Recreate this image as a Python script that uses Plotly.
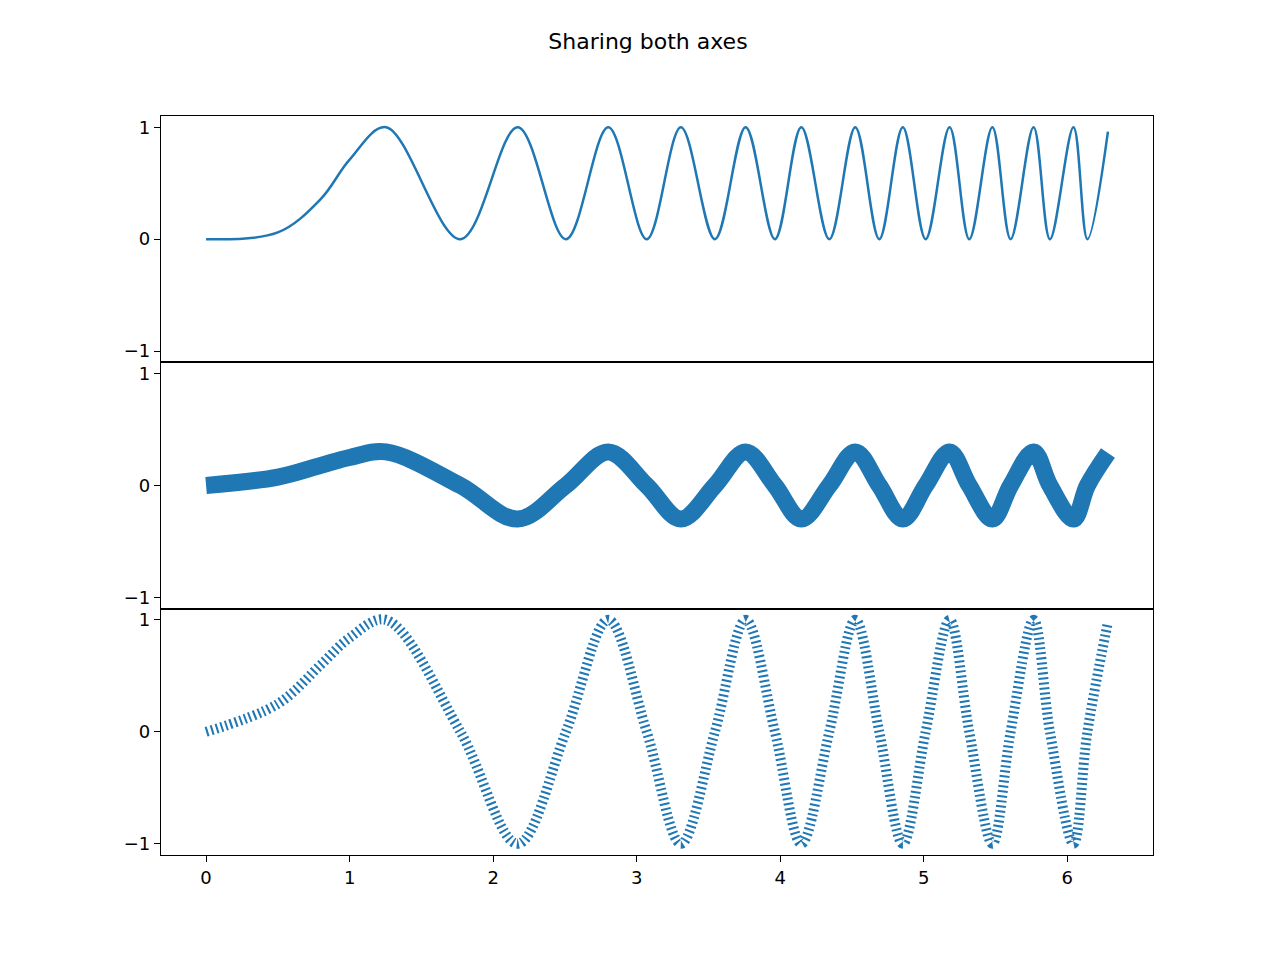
import plotly.graph_objects as go
from plotly.subplots import make_subplots

# Key points (zero crossings and extrema)
x_pts = [0.0, 0.5, 0.8, 1.0, 1.253, 1.772, 2.171, 2.507, 2.802, 3.070, 3.308, 3.545,
         3.759, 3.963, 4.147, 4.342, 4.523, 4.690, 4.854, 5.013, 5.180, 5.317,
         5.478, 5.605, 5.765, 5.879, 6.043, 6.140, 6.283]
sine_vals = [0.0, 0.25, 0.6, 0.84, 1.0, 0.0, -1.0, 0.0, 1.0, 0.0, -1.0, 0.0,
             1.0, 0.0, -1.0, 0.0, 1.0, 0.0, -1.0, 0.0, 1.0, 0.0,
             -1.0, 0.0, 1.0, 0.0, -1.0, 0.0, 0.98]
top_vals = [0.0, 0.06, 0.36, 0.71, 1.0, 0.0, 1.0, 0.0, 1.0, 0.0, 1.0, 0.0,
            1.0, 0.0, 1.0, 0.0, 1.0, 0.0, 1.0, 0.0, 1.0, 0.0,
            1.0, 0.0, 1.0, 0.0, 1.0, 0.0, 0.96]
mid_vals = [0.0, 0.075, 0.18, 0.25, 0.3, 0.0, -0.3, 0.0, 0.3, 0.0, -0.3, 0.0,
            0.3, 0.0, -0.3, 0.0, 0.3, 0.0, -0.3, 0.0, 0.3, 0.0,
            -0.3, 0.0, 0.3, 0.0, -0.3, 0.0, 0.29]
x_ticks = [0, 1, 2, 3, 4, 5, 6]
y_ticks = [-1, 0, 1]

C = "#1f77b4"
fig = make_subplots(rows=3, cols=1, shared_xaxes=True, vertical_spacing=0)
fig.add_trace(go.Scatter(x=x_pts, y=top_vals, mode="lines",
                         line=dict(color=C, width=2.5, shape="spline")), 1, 1)
fig.add_trace(go.Scatter(x=x_pts, y=mid_vals, mode="lines",
                         line=dict(color=C, width=17, shape="spline")), 2, 1)
fig.add_trace(go.Scatter(x=x_pts, y=sine_vals, mode="lines",
                         line=dict(color=C, width=10, shape="spline", dash="2px,3px")), 3, 1)

ax = dict(showgrid=False, zeroline=False, showline=True, linecolor="black",
          linewidth=1.2, mirror=True, ticklen=6, tickcolor="black")
for r in (1, 2, 3):
    fig.update_yaxes(range=[-1.1, 1.1], tickvals=y_ticks, ticks="outside",
                     row=r, col=1, **ax)
    fig.update_xaxes(range=[-0.314, 6.597], tickvals=x_ticks, row=r, col=1,
                     ticks="outside" if r == 3 else "",
                     showticklabels=(r == 3), **ax)

fig.update_layout(
    width=1280, height=960, showlegend=False,
    plot_bgcolor="white", paper_bgcolor="white",
    margin=dict(l=153, r=135, t=108, b=113),
    font=dict(family="DejaVu Sans", size=18, color="black"),
    title=dict(text="Sharing both axes", x=0.5, xanchor="center",
               yref="container", y=0.965, yanchor="middle",
               font=dict(size=22)),
)
fig.write_html("out.html")
